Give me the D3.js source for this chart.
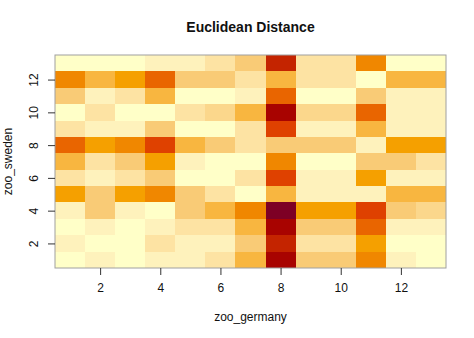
<!DOCTYPE html>
<html>
<head>
<meta charset="utf-8">
<script src="https://cdn.jsdelivr.net/npm/d3@7"></script>
<style>
  html, body { margin: 0; padding: 0; background: #fff; }
  svg { display: block; font-family: "Liberation Sans", Arial, Helvetica, sans-serif; }
</style>
</head>
<body>
<svg id="chart" width="474" height="338"></svg>
<script>
// zoo_germany index (x) and zoo_sweden index (y)
const germany = d3.range(1, 14);
const sweden = d3.range(1, 14);
const xTicks = [2, 4, 6, 8, 10, 12];
const yTicks = [2, 4, 6, 8, 10, 12];
// distance level per cell; rows listed for zoo_sweden = 13 (top) down to 1 (bottom),
// columns for zoo_germany = 1..13
const distRows = [
  [0, 0, 0, 1, 1, 2, 4, 10, 2, 2, 7, 0, 0],   // 13
  [7, 5, 6, 8, 4, 4, 2, 5, 2, 2, 0, 5, 5],    // 12
  [4, 1, 2, 5, 0, 0, 1, 8, 0, 0, 4, 1, 1],    // 11
  [0, 2, 0, 0, 2, 3, 5, 11, 3, 3, 8, 1, 1],   // 10
  [2, 1, 1, 4, 0, 0, 2, 9, 1, 1, 5, 1, 1],    // 9
  [8, 6, 7, 9, 5, 4, 2, 4, 4, 4, 1, 6, 6],    // 8
  [5, 2, 4, 6, 1, 0, 0, 7, 0, 0, 4, 4, 2],    // 7
  [2, 1, 2, 4, 0, 0, 2, 9, 1, 1, 6, 1, 1],    // 6
  [6, 4, 6, 7, 4, 2, 0, 5, 1, 1, 1, 5, 5],    // 5
  [1, 4, 1, 0, 4, 5, 7, 12, 6, 6, 9, 4, 3],   // 4
  [0, 1, 0, 1, 2, 2, 5, 11, 4, 4, 8, 1, 1],   // 3
  [1, 0, 0, 2, 1, 1, 4, 10, 2, 2, 6, 0, 0],   // 2
  [0, 1, 0, 1, 1, 2, 5, 11, 4, 4, 7, 1, 0]    // 1
];
const palette = ["#FFFFC8", "#FEF2BC", "#FDE3A3", "#FBD78C", "#F9CB76", "#F8B640",
                 "#F5A000", "#F08700", "#E96500", "#DF4100", "#C42400", "#A80300", "#7D0025"];

const svg = d3.select("#chart");
const mLeft = 55, mRight = 446, mTop = 55, mBottom = 268;

const x = d3.scaleLinear().domain([0.5, 13.5]).range([mLeft, mRight]);
const y = d3.scaleLinear().domain([0.5, 13.5]).range([mBottom, mTop]);
const color = d3.scaleOrdinal().domain(d3.range(palette.length)).range(palette);

const cells = [];
distRows.forEach((row, ri) => {
  const sv = sweden[sweden.length - 1 - ri];
  row.forEach((v, ci) => cells.push({ g: germany[ci], s: sv, v }));
});

svg.append("g").selectAll("rect").data(cells).join("rect")
  .attr("x", d => x(d.g - 0.5))
  .attr("y", d => y(d.s + 0.5))
  .attr("width", d => x(d.g + 0.5) - x(d.g - 0.5) + 0.3)
  .attr("height", d => y(d.s - 0.5) - y(d.s + 0.5) + 0.3)
  .attr("fill", d => color(d.v))
  .attr("shape-rendering", "crispEdges");

// box
svg.append("rect")
  .attr("x", mLeft).attr("y", mTop)
  .attr("width", mRight - mLeft).attr("height", mBottom - mTop)
  .attr("fill", "none").attr("stroke", "#a0a0a0").attr("stroke-width", 1);

// x axis
const xAxis = svg.append("g").attr("transform", `translate(0,${mBottom})`)
  .call(d3.axisBottom(x).tickValues(xTicks).tickSize(7).tickPadding(8).tickFormat(d3.format("d")));
xAxis.select(".domain").remove();
xAxis.selectAll("line").attr("stroke", "#333");
xAxis.selectAll("text").attr("font-size", 12).attr("fill", "#111")
  .attr("font-family", "Liberation Sans, Arial, sans-serif");

// y axis
const yAxis = svg.append("g").attr("transform", `translate(${mLeft},0)`)
  .call(d3.axisLeft(y).tickValues(yTicks).tickSize(7).tickPadding(8).tickFormat(d3.format("d")));
yAxis.select(".domain").remove();
yAxis.selectAll("line").attr("stroke", "#333");
yAxis.selectAll("text").attr("font-size", 12).attr("fill", "#111")
  .attr("font-family", "Liberation Sans, Arial, sans-serif")
  .attr("text-anchor", "middle").attr("dy", null).attr("x", null)
  .attr("transform", "translate(-20,0) rotate(-90)")
  .attr("y", 0).attr("dominant-baseline", "middle");

// title
svg.append("text").attr("x", (mLeft + mRight) / 2).attr("y", 32)
  .attr("text-anchor", "middle").attr("font-size", 14).attr("font-weight", "bold")
  .attr("fill", "#111").text("Euclidean Distance");

// axis titles
svg.append("text").attr("x", (mLeft + mRight) / 2).attr("y", 321)
  .attr("text-anchor", "middle").attr("font-size", 12).attr("fill", "#111")
  .text("zoo_germany");
svg.append("text")
  .attr("transform", `translate(12,${(mTop + mBottom) / 2}) rotate(-90)`)
  .attr("text-anchor", "middle").attr("font-size", 12).attr("fill", "#111")
  .text("zoo_sweden");
</script>
</body>
</html>
